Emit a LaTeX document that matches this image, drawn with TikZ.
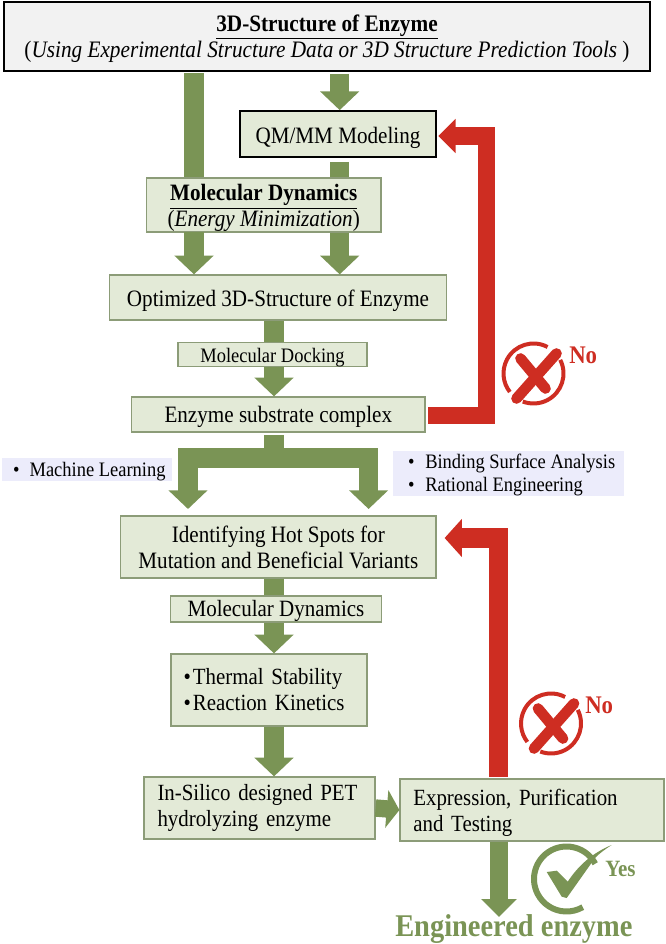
\documentclass[tikz,border=0pt]{standalone}
\usepackage{fontspec}
\setmainfont{Liberation Serif}[FakeStretch=0.9]
\usetikzlibrary{arrows.meta}
\definecolor{gr}{HTML}{7A9455}
\definecolor{rd}{HTML}{CE2D22}
\definecolor{boxfill}{HTML}{E3EAD7}
\definecolor{boxline}{HTML}{8C9C78}
\definecolor{lab}{HTML}{ECECFB}
\newcommand\tp[1]{\rule{0pt}{#1pt}}
\tikzset{
  box/.style={draw=boxline,fill=boxfill,line width=.9pt,inner sep=0pt,align=center,font=\fontsize{17.6}{19.5}\selectfont},
  lbox/.style={box,align=left,font=\fontsize{17.4}{19.5}\selectfont},
  dbox/.style={box,draw=black,line width=1.3pt},
  label box/.style={fill=lab,inner sep=0pt,align=left,font=\fontsize{15.4}{17}\selectfont},
  garrow/.style={draw=gr,line width=14.5pt,-{Triangle[length=14pt,width=28.5pt]},line join=miter},
  rarrow/.style={draw=rd,line width=13pt,-{Triangle[length=13pt,width=25pt]},line join=miter},
  gline/.style={draw=gr,line width=14.5pt},
  ring/.style={line width=3pt},
  crossbar/.style={draw=rd,line width=8pt,line cap=round},
  word/.style={inner sep=0pt,anchor=base west}
}
\begin{document}
\begin{tikzpicture}[x=.75pt,y=-.75pt]
\useasboundingbox (0,0) rectangle (665,944);
\node[dbox,fill=black!5,minimum width=485pt,minimum height=51.75pt,font=\fontsize{17.7}{19.5}\selectfont] (top) at (327,36.5)
  {\tp{16}\textbf{\underline{3D-Structure of Enzyme}}\\(\textit{Using Experimental Structure Data or 3D Structure Prediction Tools} )};
\node[dbox,minimum width=147pt,minimum height=34.5pt] (qm) at (338,134) {\tp{18}QM/MM Modeling};
\node[box,minimum width=176pt,minimum height=40.5pt] (md) at (263.7,205) {\tp{17.2}\textbf{\underline{Molecular Dynamics}}\\(\textit{Energy Minimization})};
\node[box,minimum width=252.4pt,minimum height=33.75pt] (opt) at (278,297.5) {\tp{18}Optimized 3D-Structure of Enzyme};
\node[box,minimum width=141.75pt,minimum height=17.25pt,font=\fontsize{15.4}{17}\selectfont] (dock) at (272.5,354.5) {\tp{15}Molecular Docking};
\node[box,minimum width=220pt,minimum height=26.25pt] (es) at (278.3,414.5) {\tp{16}Enzyme substrate complex};
\node[label box,minimum width=128pt,minimum height=17.25pt] (ml) at (87,469.5) {\tp{13.5}\hspace{3.5pt}•\hspace{7.5pt}Machine Learning};
\node[label box,minimum width=173.25pt,minimum height=33.75pt] (bind) at (508,473.5) {\tp{13.5}\hspace{5.5pt}•\hspace{8pt}Binding Surface Analysis\\\hspace{5.5pt}•\hspace{8pt}Rational Engineering};
\node[box,minimum width=236.5pt,minimum height=46.5pt] (id) at (278.3,547) {Identifying Hot Spots for\\Mutation and Beneficial Variants};
\node[box,minimum width=158.5pt,minimum height=19.5pt,font=\fontsize{17.5}{18}\selectfont] (md2) at (276,609) {\tp{15}Molecular Dynamics};
\node[lbox,minimum width=147pt,minimum height=54pt,text width=128pt] (th) at (269,690) {•\hspace{1.5pt}Thermal Stability\\•\hspace{1.5pt}Reaction Kinetics};
\node[lbox,minimum width=173.25pt,minimum height=46.5pt,text width=153pt] (si) at (259.5,808) {\mbox{In-Silico designed PET}\\hydrolyzing enzyme};
\node[lbox,minimum width=198pt,minimum height=46.5pt,text width=178pt] (ex) at (532,810) {\tp{17.2}Expression, Purification\\and Testing};
\node[word,text=gr,font=\fontsize{23.7}{26}\selectfont\bfseries] (eng) at (395,936) {Engineered enzyme};

% connectors
\coordinate (a1t) at (194,73); \coordinate (a1b) at (194,232);
\coordinate (a2t) at (339.7,74); \coordinate (a3t) at (339.7,162);
\draw[gline] (a1t) -- (a1t |- md.north);
\draw[garrow] (a1b) -- (a1b |- opt.north);
\draw[garrow] (a2t) -- (a2t |- qm.north);
\draw[gline] (a3t) -- (a3t |- md.north);
\draw[garrow] (a3t |- md.south) -- (a3t |- opt.north);
\coordinate (a4) at (274,0);
\draw[gline] (a4 |- opt.south) -- (a4 |- dock.north);
\draw[garrow] (a4 |- dock.south) -- (a4 |- es.north);
\coordinate (fs) at (274,435); \coordinate (fm) at (274,458);
\coordinate (fl) at (188,458); \coordinate (fr) at (368.6,458);
\draw[garrow] (fs) -- (fm) -- (fl) -- (fl |- 0,509);
\draw[garrow] (fs) -- (fm) -- (fr) -- (fr |- 0,509);
\draw[gline] (a4 |- id.south) -- (a4 |- md2.north);
\draw[garrow] (a4 |- md2.south) -- (a4 |- th.north);
\draw[garrow] (a4 |- th.south) -- (a4 |- si.north);
\draw[garrow,line width=13pt,-{Triangle[length=9.5pt,width=28pt]}] (si.east) -- (ex.west);
\coordinate (d) at (499,0);
\draw[garrow,line width=14pt,-{Triangle[length=13.5pt,width=26pt]}] (d |- ex.south) -- (d |- 0,917) coordinate (dend);
\coordinate (r1s) at (428,415.5); \coordinate (r1v) at (486.3,415.5); \coordinate (r1u) at (486.3,136);
\draw[rarrow,shorten >=1pt] (r1s) -- (r1v) -- (r1u) -- (r1u -| qm.east);
\coordinate (r2s) at (498.3,777); \coordinate (r2u) at (498.3,538); \coordinate (r2e) at (444.6,538);
\draw[rarrow,line width=14.5pt,-{Triangle[length=13pt,width=28pt]}] (r2s) -- (r2u) -- (r2e);

% No marks
\foreach \cx/\cy in {533.5/373.5,551/723.5}{
  \begin{scope}[shift={(\cx,\cy)}]
    \draw[rd,ring] (-62:30) arc[start angle=-62,end angle=-218,radius=30];
    \draw[rd,ring] (-27:30) arc[start angle=-27,end angle=111,radius=30];
    \draw[crossbar] (-13,-15) -- (12,15);
    \draw[crossbar] (23,-20) -- (-17,25);
  \end{scope}
}
\node[word,text=rd,font=\fontsize{19}{20}\selectfont\bfseries] (no1) at (569,363) {No};
\node[word,text=rd,font=\fontsize{19}{20}\selectfont\bfseries] (no2) at (585,713) {No};

% Yes mark
\draw[gr,line width=4.5pt] (566.5,879) ++(-28:32.5) arc[start angle=-28,end angle=-300,radius=32.5];
\fill[gr] (546.7,872) -- (556.7,870.7) -- (567.7,881.7) .. controls (578,866) and (592,853) .. (611.7,845) .. controls (604,850) and (600,853) .. (595,858) -- (566.7,898) -- (561.7,896.7) -- cycle;
\node[word,text=gr,font=\fontsize{17.5}{18}\selectfont\bfseries] (yes) at (605,876) {Yes};
\end{tikzpicture}
\end{document}
